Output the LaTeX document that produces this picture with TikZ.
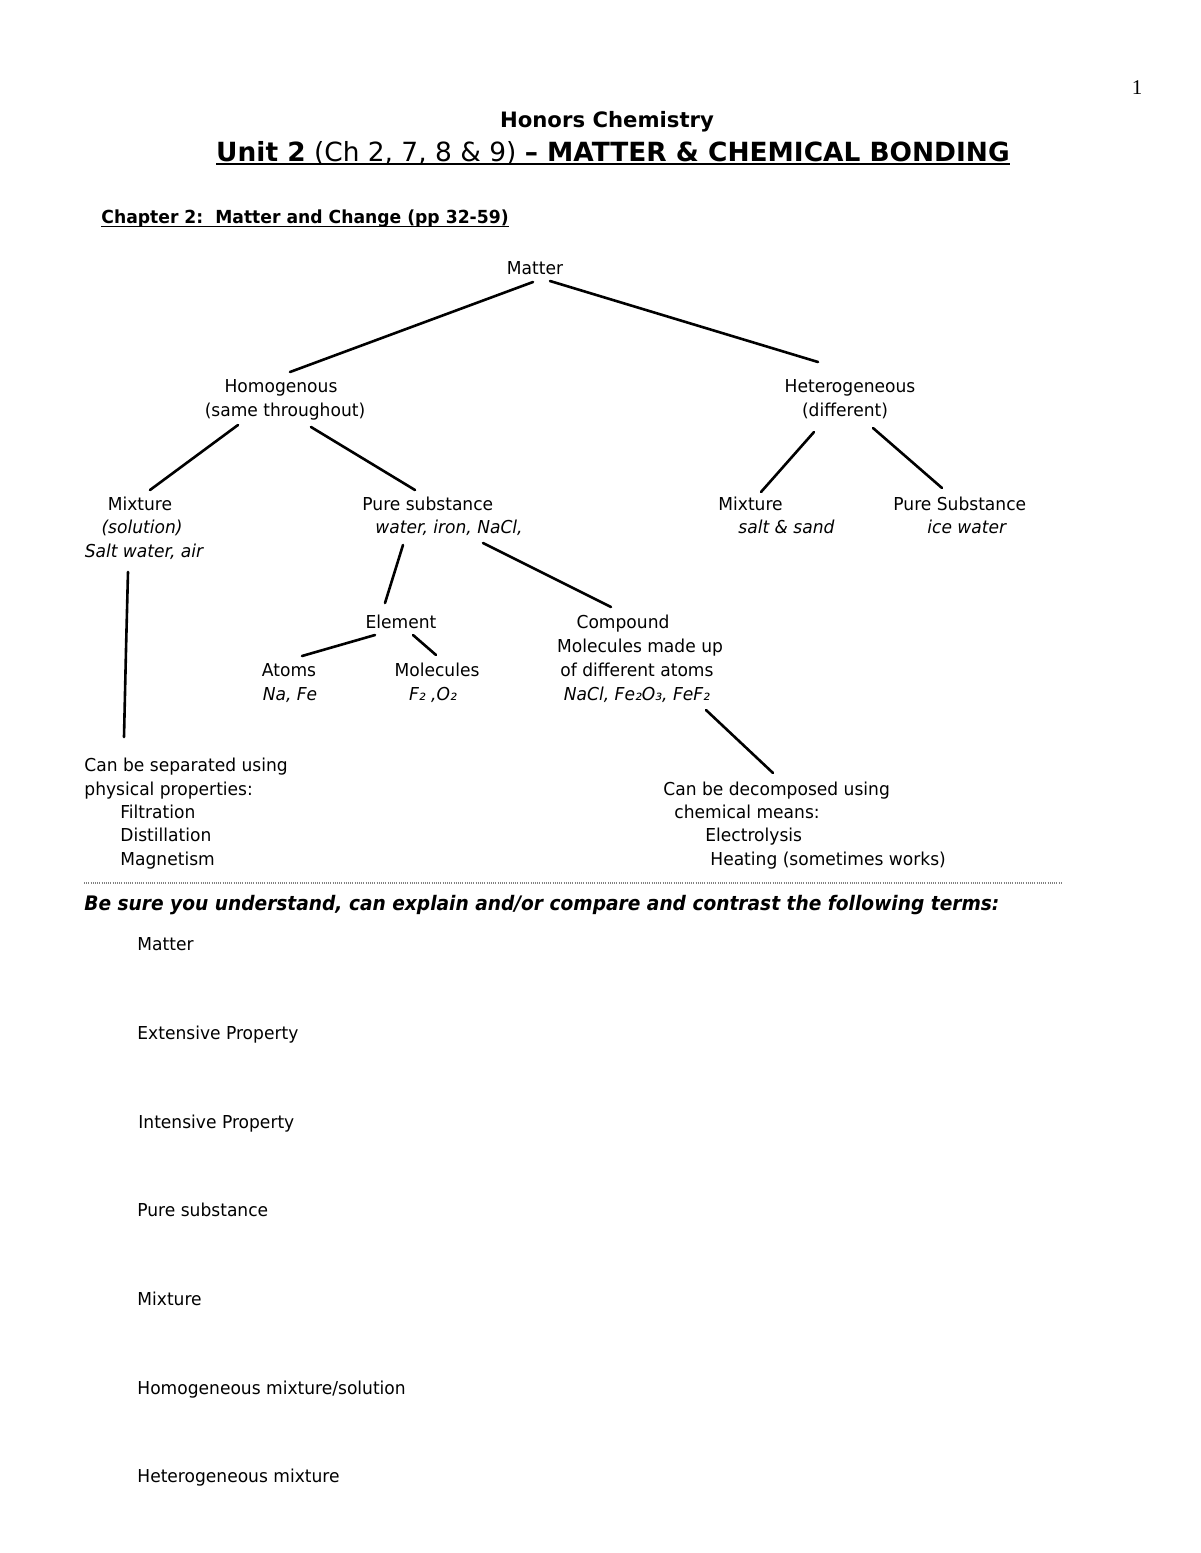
\documentclass[tikz,border=0pt]{standalone}
\usepackage{fontspec}
\setmainfont{DejaVu Sans}[FakeStretch=0.96]
\newfontfamily\hfont{DejaVu Sans}
\newfontfamily\chfont{DejaVu Sans}[FakeStretch=0.955]
\newfontfamily\bsfont{DejaVu Sans}[FakeStretch=0.93]
\newfontfamily\pnfont{Liberation Serif}
\newcommand\myul[2][0.9pt]{\setbox0\hbox{#2}\rlap{\raisebox{-2.2pt}{\rule{\wd0}{#1}}}\box0}
\tikzset{
  txt/.style={inner sep=0pt, font=\fontsize{8.9pt}{11pt}\selectfont},
  itx/.style={inner sep=0pt, font=\fontsize{8.9pt}{11pt}\selectfont\itshape},
  lbl/.style={txt, anchor=base},
  lw/.style={txt, anchor=base west},
  ilbl/.style={itx, anchor=base},
  ilw/.style={itx, anchor=base west},
  link/.style={line width=1.3pt, line cap=round},
  dots/.style={line width=0.6pt, gray, dash pattern=on 0.5pt off 0.6pt},
}
\begin{document}
\begin{tikzpicture}[x=0.5pt, y=-0.5pt]
\fill[white] (0,0) rectangle (1200,1553);
\useasboundingbox (0,0) rectangle (1200,1553);

% header
\node[anchor=base, inner sep=0pt, font=\pnfont\fontsize{10.5pt}{12pt}\selectfont] (pnum) at (1137,94) {1};
\node[anchor=base, inner sep=0pt, font=\hfont\bfseries\fontsize{10.6pt}{13pt}\selectfont] (honors) at (607,127) {Honors Chemistry};
\node[anchor=base, inner sep=0pt, font=\hfont\fontsize{13.2pt}{16pt}\selectfont] (unit) at (613,161)
  {\myul[1.1pt]{\textbf{Unit 2} (Ch 2, 7, 8 \& 9) \textbf{– MATTER \& CHEMICAL BONDING}}};
\node[anchor=base west, inner sep=0pt, font=\chfont\bfseries\fontsize{9pt}{11pt}\selectfont] (chapter) at (101,223)
  {\myul[0.8pt]{Chapter 2:\ \ Matter and Change (pp 32-59)}};

% tree
\node[lbl] (matter) at (535,274) {Matter};
\node[lbl] (homog) at (281,392) {Homogenous};
\node[lbl] (homog2) at (285,416) {(same throughout)};
\node[lbl] (hetero) at (850,392) {Heterogeneous};
\node[lbl] (hetero2) at (845,416) {(different)};

\node[lbl] (mixA) at (140,510) {Mixture};
\node[ilbl] (mixA2) at (142,533) {(solution)};
\node[ilbl] (mixA3) at (144,557) {Salt water, air};
\node[lw] (pureA) at (362,510) {Pure substance};
\node[ilw] (pureA2) at (375,533) {water, iron, NaCl,};
\node[lw] (mixB) at (718,510) {Mixture};
\node[ilw] (mixB2) at (738,533) {salt \& sand};
\node[lw] (pureB) at (893,510) {Pure Substance};
\node[ilw] (pureB2) at (927,533) {ice water};

\node[lbl] (element) at (401,628) {Element};
\node[lbl] (compound) at (623,628) {Compound};
\node[lbl] (comp2) at (640,652) {Molecules made up};
\node[lbl] (comp3) at (637,676) {of different atoms};
\node[ilbl] (comp4) at (637,700) {NaCl, Fe₂O₃, FeF₂};
\node[lbl] (atoms) at (289,676) {Atoms};
\node[ilbl] (atoms2) at (290,700) {Na, Fe};
\node[lbl] (molec) at (437,676) {Molecules};
\node[ilbl] (molec2) at (433,700) {F₂ ,O₂};

\node[lw] (sep1) at (84,771) {Can be separated using};
\node[lw] (sep2) at (84,795) {physical properties:};
\node[lw] (sep3) at (120,818) {Filtration};
\node[lw] (sep4) at (120,841) {Distillation};
\node[lw] (sep5) at (120,865) {Magnetism};

\node[lw] (dec1) at (663,795) {Can be decomposed using};
\node[lw] (dec2) at (674,818) {chemical means:};
\node[lw] (dec3) at (705,841) {Electrolysis};
\node[lw] (dec4) at (710,865) {Heating (sometimes works)};

% connectors
\draw[link] ([shift={(-2,8)}]matter.base) -- ([shift={(9,-20)}]homog.base);
\draw[link] ([shift={(15,7)}]matter.base) -- ([shift={(-32,-30)}]hetero.base);
\draw[link] ([shift={(-47,9)}]homog2.base) -- ([shift={(10,-20)}]mixA.base);
\draw[link] ([shift={(26,11)}]homog2.base) -- ([shift={(53,-20)}]pureA.base west);
\draw[link] ([shift={(-31,16)}]hetero2.base) -- ([shift={(43,-18)}]mixB.base west);
\draw[link] ([shift={(28,12)}]hetero2.base) -- ([shift={(49,-22)}]pureB.base west);
\draw[link] ([shift={(-16,15)}]mixA3.base) -- ([shift={(42,-121)}]sep1.base west) -- ([shift={(40,-34)}]sep1.base west);
\draw[link] ([shift={(28,12)}]pureA2.base west) -- ([shift={(-16,-25)}]element.base);
\draw[link] ([shift={(108,10)}]pureA2.base west) -- ([shift={(-12,-21)}]compound.base);
\draw[link] ([shift={(-26,7)}]element.base) -- ([shift={(13,-20)}]atoms.base);
\draw[link] ([shift={(12,7)}]element.base) -- ([shift={(-1,-21)}]molec.base);
\draw[link] ([shift={(69,10)}]comp4.base) -- ([shift={(110,-22)}]dec1.base west);

% separator
\draw[dots] (84,883) -- (1062,883);

\node[anchor=base west, inner sep=0pt, font=\bsfont\bfseries\itshape\fontsize{10pt}{12pt}\selectfont] (besure) at (84,910)
  {Be sure you understand, can explain and/or compare and contrast the following terms:};

\node[lw] (t1) at (137,950) {Matter};
\node[lw] (t2) at (137,1039) {Extensive Property};
\node[lw] (t3) at (138,1128) {Intensive Property};
\node[lw] (t4) at (137,1216) {Pure substance};
\node[lw] (t5) at (137,1305) {Mixture};
\node[lw] (t6) at (137,1394) {Homogeneous mixture/solution};
\node[lw] (t7) at (137,1482) {Heterogeneous mixture};
\end{tikzpicture}
\end{document}
